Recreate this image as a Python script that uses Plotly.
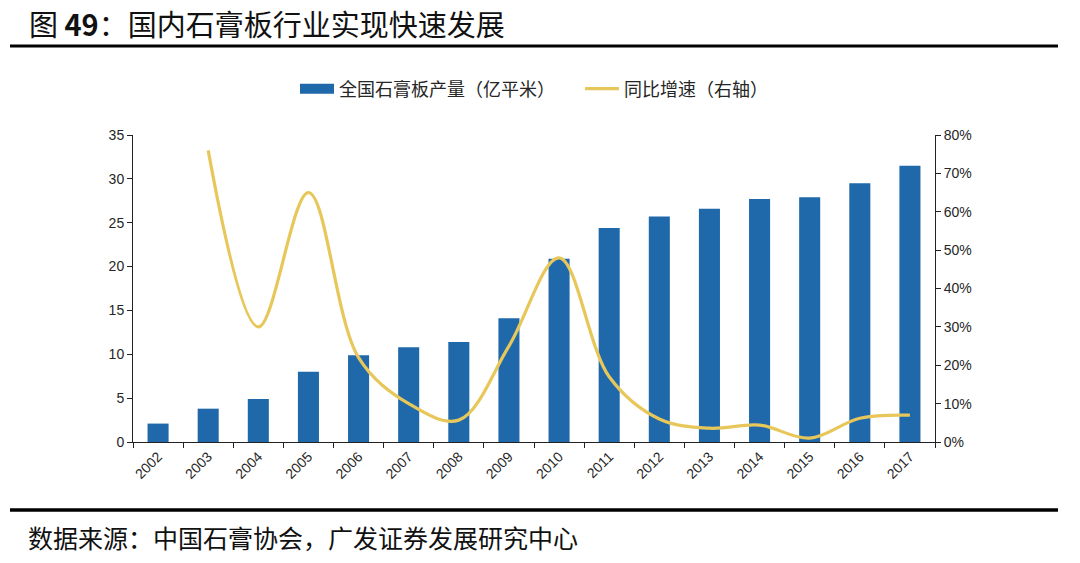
import plotly.graph_objects as go

years = [str(y) for y in range(2002, 2018)]
output = [2.1, 3.8, 4.9, 8.0, 9.9, 10.8, 11.4, 14.1, 20.9, 24.4, 25.7, 26.6, 27.7, 27.9, 29.5, 31.5]
growth_years = years[1:]
growth = [0.76, 0.30, 0.65, 0.22, 0.10, 0.057, 0.25, 0.48, 0.17, 0.06, 0.036, 0.044, 0.01, 0.062, 0.07]

left_ticks = [0, 5, 10, 15, 20, 25, 30, 35]
right_ticks = [0, 0.1, 0.2, 0.3, 0.4, 0.5, 0.6, 0.7, 0.8]

_BLUE = "#1f69ab"
_GOLD = "#e8c75a"
_TXT = "#262626"
_AX = "#222222"
_CJK = "Noto Sans CJK SC"

W, H = 1080, 563
L, R, T, B = 133, 935, 135, 442


def px(x):
    return (x - L) / (R - L)


def py(y):
    return (B - y) / (B - T)


fig = go.Figure()

fig.add_trace(
    go.Bar(
        x=years,
        y=output,
        name="全国石膏板产量（亿平米）",
        marker=dict(color=_BLUE, line=dict(width=0)),
        width=0.42,
        showlegend=False,
    )
)

# legend entry drawn as a wide flat block, like the original key
fig.add_trace(
    go.Scatter(
        x=[None],
        y=[None],
        name="全国石膏板产量（亿平米）",
        mode="lines",
        line=dict(color=_BLUE, width=10),
    )
)

fig.add_trace(
    go.Scatter(
        x=growth_years,
        y=growth,
        name="同比增速（右轴）",
        mode="lines",
        line=dict(color=_GOLD, width=3.2, shape="spline", smoothing=1.0),
        yaxis="y2",
    )
)

fig.update_layout(
    width=W,
    height=H,
    paper_bgcolor="white",
    plot_bgcolor="white",
    margin=dict(l=L, r=W - R, t=T, b=H - B),
    font=dict(family="Arial, Liberation Sans", color=_TXT, size=14),
    showlegend=True,
    legend=dict(
        orientation="h",
        xref="container",
        yref="container",
        x=295 / W,
        xanchor="left",
        y=1 - 89 / H,
        yanchor="middle",
        font=dict(family=_CJK, size=18, color=_TXT),
        itemwidth=34,
        entrywidth=236,
        entrywidthmode="pixels",
        tracegroupgap=0,
        bgcolor="rgba(0,0,0,0)",
    ),
    xaxis=dict(
        type="category",
        showline=True,
        linecolor=_AX,
        linewidth=1,
        ticks="outside",
        tickson="boundaries",
        ticklen=5,
        tickcolor=_AX,
        tickangle=-45,
        tickfont=dict(size=14, color=_TXT),
        showgrid=False,
        zeroline=False,
    ),
    yaxis=dict(
        range=[0, 35],
        tickvals=left_ticks,
        showline=True,
        linecolor=_AX,
        linewidth=1,
        ticks="outside",
        ticklen=5,
        tickcolor=_AX,
        tickfont=dict(size=14, color=_TXT),
        showgrid=False,
        zeroline=False,
    ),
    yaxis2=dict(
        range=[0, 0.8],
        tickvals=right_ticks,
        tickformat=".0%",
        overlaying="y",
        side="right",
        showline=True,
        linecolor=_AX,
        linewidth=1,
        ticks="outside",
        ticklen=5,
        tickcolor=_AX,
        tickfont=dict(size=14, color=_TXT),
        showgrid=False,
        zeroline=False,
    ),
    shapes=[
        dict(type="line", xref="paper", yref="paper",
             x0=px(10), x1=px(1058), y0=py(46), y1=py(46),
             line=dict(color="black", width=3)),
        dict(type="line", xref="paper", yref="paper",
             x0=px(10), x1=px(1058), y0=py(510), y1=py(510),
             line=dict(color="black", width=3.5)),
    ],
    annotations=[
        dict(
            text="图 <b>49</b>：国内石膏板行业实现快速发展",
            xref="paper", yref="paper",
            x=px(28), y=py(23),
            xanchor="left", yanchor="middle",
            borderpad=0,
            showarrow=False,
            font=dict(family=_CJK, size=29, color="#111111"),
        ),
        dict(
            text="数据来源：中国石膏协会，广发证券发展研究中心",
            xref="paper", yref="paper",
            x=px(26), y=py(537),
            xanchor="left", yanchor="middle",
            showarrow=False,
            font=dict(family=_CJK, size=25, color="#111111"),
        ),
    ],
)

# drop the default page margin so the figure sits flush in the window
fig.write_html(
    "out.html",
    config={"displayModeBar": False},
    post_script="document.body.style.margin = '0';",
)
